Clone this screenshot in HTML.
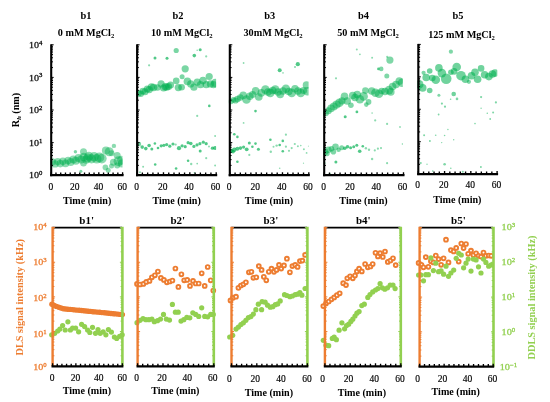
<!DOCTYPE html>
<html><head><meta charset="utf-8"><title>DLS figure</title>
<style>
html,body{margin:0;padding:0;background:#fff;}
body{width:550px;height:402px;overflow:hidden;}
svg{display:block;}
text{font-family:"Liberation Serif",serif;}
.t{font-weight:bold;font-size:10.4px;text-anchor:middle;fill:#000;}
.s{font-weight:bold;font-size:10.2px;text-anchor:middle;fill:#000;}
.xl{font-weight:bold;font-size:10.1px;text-anchor:middle;fill:#000;}
.xt{font-size:9.5px;text-anchor:middle;fill:#000;stroke:#000;stroke-width:0.15;}
.pw{font-family:"Liberation Sans",sans-serif;font-size:8.5px;stroke-width:0.2;}
.pws{font-family:"Liberation Serif",serif;font-size:8.9px;stroke-width:0.28;}
.g circle{fill:#00b050;}
.o circle{fill:#fff;stroke:#ed7d31;stroke-width:1.9;}
.o1 circle{fill:#ed7d31;stroke:#ed7d31;stroke-width:1.2;}
.l circle{fill:#92d050;}
</style></head><body>
<svg width="550" height="402" viewBox="0 0 550 402">
<rect width="550" height="402" fill="#fff"/>
<text x="86.0" y="19.1" class="t">b1</text>
<text x="178.1" y="18.9" class="t">b2</text>
<text x="269.8" y="18.7" class="t">b3</text>
<text x="363.4" y="18.7" class="t">b4</text>
<text x="458.0" y="18.8" class="t">b5</text>
<text x="86.0" y="35.6" class="s">0 mM MgCl<tspan dy="2" font-size="6.6">2</tspan></text>
<text x="181.8" y="35.6" class="s">10 mM MgCl<tspan dy="2" font-size="6.6">2</tspan></text>
<text x="273.0" y="35.6" class="s">30mM MgCl<tspan dy="2" font-size="6.6">2</tspan></text>
<text x="368.0" y="35.6" class="s">50 mM MgCl<tspan dy="2" font-size="6.6">2</tspan></text>
<text x="461.5" y="37.6" class="s">125 mM MgCl<tspan dy="2" font-size="6.6">2</tspan></text>
<text transform="translate(42.40,178.30) scale(1.13,1)" class="pws" fill="#111" stroke="#111" text-anchor="end">10<tspan dy="-3.1" font-size="6">0</tspan></text>
<text transform="translate(42.40,145.70) scale(1.13,1)" class="pws" fill="#111" stroke="#111" text-anchor="end">10<tspan dy="-3.1" font-size="6">1</tspan></text>
<text transform="translate(42.40,113.10) scale(1.13,1)" class="pws" fill="#111" stroke="#111" text-anchor="end">10<tspan dy="-3.1" font-size="6">2</tspan></text>
<text transform="translate(42.40,80.50) scale(1.13,1)" class="pws" fill="#111" stroke="#111" text-anchor="end">10<tspan dy="-3.1" font-size="6">3</tspan></text>
<text transform="translate(42.40,47.90) scale(1.13,1)" class="pws" fill="#111" stroke="#111" text-anchor="end">10<tspan dy="-3.1" font-size="6">4</tspan></text>
<text transform="translate(18.7,110) rotate(-90)" class="xl">R<tspan dy="2" font-size="6.6" font-style="italic">h</tspan><tspan dy="-2"> (nm)</tspan></text>
<clipPath id="c0"><rect x="50.10" y="41.80" width="72.40" height="133.90"/></clipPath>
<g class="g" clip-path="url(#c0)">
<circle cx="52.5" cy="161.8" r="3.6" fill-opacity="0.45"/>
<circle cx="55.1" cy="163.9" r="3.7" fill-opacity="0.45"/>
<circle cx="57.7" cy="161.6" r="3.7" fill-opacity="0.45"/>
<circle cx="60.3" cy="163.6" r="3.8" fill-opacity="0.45"/>
<circle cx="62.9" cy="161.2" r="3.8" fill-opacity="0.45"/>
<circle cx="65.5" cy="163.4" r="3.8" fill-opacity="0.45"/>
<circle cx="68.1" cy="160.6" r="3.8" fill-opacity="0.45"/>
<circle cx="70.7" cy="162.0" r="3.9" fill-opacity="0.45"/>
<circle cx="73.3" cy="159.4" r="3.9" fill-opacity="0.45"/>
<circle cx="75.9" cy="160.8" r="4.0" fill-opacity="0.45"/>
<circle cx="78.5" cy="158.0" r="4.0" fill-opacity="0.45"/>
<circle cx="81.1" cy="159.4" r="4.0" fill-opacity="0.45"/>
<circle cx="83.7" cy="157.0" r="4.2" fill-opacity="0.45"/>
<circle cx="86.3" cy="159.5" r="4.3" fill-opacity="0.45"/>
<circle cx="88.9" cy="156.2" r="4.5" fill-opacity="0.45"/>
<circle cx="91.5" cy="158.8" r="4.6" fill-opacity="0.45"/>
<circle cx="94.1" cy="156.8" r="4.8" fill-opacity="0.45"/>
<circle cx="96.7" cy="158.8" r="4.8" fill-opacity="0.45"/>
<circle cx="99.3" cy="157.4" r="5.0" fill-opacity="0.45"/>
<circle cx="101.9" cy="158.6" r="4.8" fill-opacity="0.45"/>
<circle cx="75.4" cy="151.8" r="1.7" fill-opacity="0.5"/>
<circle cx="83.5" cy="151.8" r="3.5" fill-opacity="0.45"/>
<circle cx="83.5" cy="163.2" r="3.3" fill-opacity="0.45"/>
<circle cx="80.9" cy="171.2" r="1.5" fill-opacity="0.5"/>
<circle cx="87.7" cy="158.0" r="4.5" fill-opacity="0.45"/>
<circle cx="113.9" cy="145.9" r="2.2" fill-opacity="0.45"/>
<circle cx="105.9" cy="150.4" r="4.0" fill-opacity="0.45"/>
<circle cx="109.2" cy="151.8" r="4.5" fill-opacity="0.45"/>
<circle cx="111.5" cy="153.2" r="3.0" fill-opacity="0.45"/>
<circle cx="117.2" cy="155.6" r="3.5" fill-opacity="0.45"/>
<circle cx="118.6" cy="161.3" r="5.0" fill-opacity="0.45"/>
<circle cx="121.5" cy="160.3" r="4.5" fill-opacity="0.45"/>
<circle cx="113.4" cy="162.2" r="3.5" fill-opacity="0.45"/>
<circle cx="111.5" cy="166.0" r="2.5" fill-opacity="0.45"/>
<circle cx="105.4" cy="167.4" r="2.8" fill-opacity="0.45"/>
<circle cx="108.2" cy="170.3" r="2.5" fill-opacity="0.45"/>
<circle cx="117.2" cy="165.5" r="3.0" fill-opacity="0.45"/>
<circle cx="121.8" cy="163.5" r="4.0" fill-opacity="0.45"/>
</g>
<line x1="51.20" y1="44.30" x2="51.20" y2="176.20" stroke="#000" stroke-width="2.1"/>
<path d="M51.20 175.20h2.50M51.20 165.39h1.80M51.20 159.65h1.80M51.20 155.57h1.80M51.20 152.41h1.80M51.20 149.83h1.80M51.20 147.65h1.80M51.20 145.76h1.80M51.20 144.09h1.80M51.20 142.60h2.50M51.20 132.79h1.80M51.20 127.05h1.80M51.20 122.97h1.80M51.20 119.81h1.80M51.20 117.23h1.80M51.20 115.05h1.80M51.20 113.16h1.80M51.20 111.49h1.80M51.20 110.00h2.50M51.20 100.19h1.80M51.20 94.45h1.80M51.20 90.37h1.80M51.20 87.21h1.80M51.20 84.63h1.80M51.20 82.45h1.80M51.20 80.56h1.80M51.20 78.89h1.80M51.20 77.40h2.50M51.20 67.59h1.80M51.20 61.85h1.80M51.20 57.77h1.80M51.20 54.61h1.80M51.20 52.03h1.80M51.20 49.85h1.80M51.20 47.96h1.80M51.20 46.29h1.80M51.20 44.80h2.50" stroke="#000" stroke-width="1.0" fill="none"/>
<line x1="50.10" y1="175.20" x2="123.60" y2="175.20" stroke="#000" stroke-width="2.2"/>
<path d="M51.20 175.20v-3.00M55.96 175.20v-2.60M60.72 175.20v-2.60M65.48 175.20v-2.60M70.24 175.20v-2.60M75.00 175.20v-3.00M79.76 175.20v-2.60M84.52 175.20v-2.60M89.28 175.20v-2.60M94.04 175.20v-2.60M98.80 175.20v-3.00M103.56 175.20v-2.60M108.32 175.20v-2.60M113.08 175.20v-2.60M117.84 175.20v-2.60M122.60 175.20v-3.00" stroke="#000" stroke-width="1.35" fill="none"/>
<text x="50.90" y="189.50" class="xt">0</text>
<text x="74.67" y="189.50" class="xt">20</text>
<text x="98.43" y="189.50" class="xt">40</text>
<text x="122.20" y="189.50" class="xt">60</text>
<text x="87.1" y="203.8" class="xl">Time (min)</text>
<clipPath id="c1"><rect x="136.00" y="41.80" width="80.10" height="133.90"/></clipPath>
<g class="g" clip-path="url(#c1)">
<circle cx="176.2" cy="50.5" r="2.6" fill-opacity="0.52"/>
<circle cx="155.0" cy="58.1" r="1.5" fill-opacity="0.68"/>
<circle cx="167.0" cy="58.3" r="1.5" fill-opacity="0.68"/>
<circle cx="149.1" cy="65.3" r="1.1" fill-opacity="0.45"/>
<circle cx="194.3" cy="55.6" r="1.8" fill-opacity="0.68"/>
<circle cx="200.2" cy="49.7" r="1.5" fill-opacity="0.68"/>
<circle cx="197.2" cy="50.2" r="0.8" fill-opacity="0.45"/>
<circle cx="206.2" cy="56.4" r="1.1" fill-opacity="0.45"/>
<circle cx="185.2" cy="68.8" r="3.6" fill-opacity="0.52"/>
<circle cx="182.1" cy="76.8" r="2.5" fill-opacity="0.52"/>
<circle cx="176.2" cy="80.9" r="3.3" fill-opacity="0.52"/>
<circle cx="209.2" cy="76.5" r="3.6" fill-opacity="0.52"/>
<circle cx="138.6" cy="93.2" r="3.2" fill-opacity="0.52"/>
<circle cx="140.7" cy="93.8" r="3.3" fill-opacity="0.52"/>
<circle cx="142.9" cy="91.1" r="3.4" fill-opacity="0.52"/>
<circle cx="145.0" cy="91.7" r="3.5" fill-opacity="0.52"/>
<circle cx="147.2" cy="89.0" r="3.5" fill-opacity="0.52"/>
<circle cx="149.3" cy="89.6" r="3.6" fill-opacity="0.52"/>
<circle cx="151.5" cy="86.9" r="3.7" fill-opacity="0.52"/>
<circle cx="153.6" cy="87.5" r="3.8" fill-opacity="0.52"/>
<circle cx="165.2" cy="86.8" r="3.7" fill-opacity="0.52"/>
<circle cx="168.6" cy="86.6" r="3.5" fill-opacity="0.52"/>
<circle cx="161.1" cy="83.9" r="3.6" fill-opacity="0.52"/>
<circle cx="163.6" cy="88.0" r="3.6" fill-opacity="0.52"/>
<circle cx="166.8" cy="87.2" r="3.6" fill-opacity="0.52"/>
<circle cx="170.5" cy="85.0" r="3.6" fill-opacity="0.52"/>
<circle cx="178.3" cy="87.6" r="3.6" fill-opacity="0.52"/>
<circle cx="181.6" cy="87.2" r="3.3" fill-opacity="0.52"/>
<circle cx="187.4" cy="81.4" r="3.8" fill-opacity="0.52"/>
<circle cx="190.7" cy="83.9" r="3.6" fill-opacity="0.52"/>
<circle cx="193.9" cy="87.2" r="3.6" fill-opacity="0.52"/>
<circle cx="197.2" cy="82.2" r="3.6" fill-opacity="0.52"/>
<circle cx="200.5" cy="84.7" r="3.6" fill-opacity="0.52"/>
<circle cx="203.0" cy="80.6" r="3.8" fill-opacity="0.52"/>
<circle cx="206.2" cy="84.7" r="3.6" fill-opacity="0.52"/>
<circle cx="210.4" cy="83.9" r="3.6" fill-opacity="0.52"/>
<circle cx="213.6" cy="84.7" r="3.6" fill-opacity="0.52"/>
<circle cx="215.3" cy="83.0" r="4.3" fill-opacity="0.52"/>
<circle cx="157.5" cy="87.5" r="3.3" fill-opacity="0.52"/>
<circle cx="138.9" cy="144.0" r="2.3" fill-opacity="0.52"/>
<circle cx="142.2" cy="147.1" r="1.8" fill-opacity="0.68"/>
<circle cx="145.8" cy="148.6" r="1.8" fill-opacity="0.68"/>
<circle cx="149.1" cy="145.5" r="1.8" fill-opacity="0.68"/>
<circle cx="151.8" cy="148.9" r="1.5" fill-opacity="0.68"/>
<circle cx="154.9" cy="143.5" r="1.3" fill-opacity="0.68"/>
<circle cx="158.0" cy="148.0" r="1.3" fill-opacity="0.68"/>
<circle cx="161.2" cy="145.8" r="1.6" fill-opacity="0.68"/>
<circle cx="163.9" cy="145.3" r="1.6" fill-opacity="0.68"/>
<circle cx="166.7" cy="144.6" r="1.6" fill-opacity="0.68"/>
<circle cx="169.8" cy="146.2" r="1.6" fill-opacity="0.68"/>
<circle cx="173.0" cy="144.0" r="1.6" fill-opacity="0.68"/>
<circle cx="175.7" cy="144.6" r="1.1" fill-opacity="0.45"/>
<circle cx="179.0" cy="148.2" r="2.1" fill-opacity="0.68"/>
<circle cx="182.1" cy="145.8" r="1.6" fill-opacity="0.68"/>
<circle cx="185.2" cy="146.7" r="1.6" fill-opacity="0.68"/>
<circle cx="188.1" cy="142.7" r="1.6" fill-opacity="0.68"/>
<circle cx="190.8" cy="143.5" r="1.8" fill-opacity="0.68"/>
<circle cx="193.9" cy="146.4" r="1.6" fill-opacity="0.68"/>
<circle cx="197.0" cy="144.9" r="1.6" fill-opacity="0.68"/>
<circle cx="199.9" cy="143.7" r="1.6" fill-opacity="0.68"/>
<circle cx="200.2" cy="150.9" r="1.5" fill-opacity="0.68"/>
<circle cx="203.3" cy="142.2" r="1.6" fill-opacity="0.68"/>
<circle cx="206.2" cy="143.7" r="1.6" fill-opacity="0.68"/>
<circle cx="209.0" cy="146.4" r="1.0" fill-opacity="0.45"/>
<circle cx="212.4" cy="148.2" r="1.6" fill-opacity="0.68"/>
<circle cx="215.1" cy="148.0" r="2.1" fill-opacity="0.68"/>
<circle cx="209.3" cy="105.9" r="1.3" fill-opacity="0.68"/>
<circle cx="197.2" cy="115.9" r="1.1" fill-opacity="0.45"/>
<circle cx="215.1" cy="135.9" r="1.0" fill-opacity="0.45"/>
<circle cx="188.1" cy="160.7" r="1.3" fill-opacity="0.68"/>
<circle cx="191.2" cy="164.0" r="1.2" fill-opacity="0.45"/>
<circle cx="197.2" cy="163.6" r="0.9" fill-opacity="0.45"/>
<circle cx="206.2" cy="158.2" r="1.1" fill-opacity="0.45"/>
<circle cx="215.1" cy="165.4" r="1.0" fill-opacity="0.45"/>
<circle cx="155.2" cy="164.5" r="1.3" fill-opacity="0.68"/>
<circle cx="143.1" cy="166.7" r="1.0" fill-opacity="0.45"/>
<circle cx="176.1" cy="168.5" r="1.3" fill-opacity="0.68"/>
<circle cx="140.0" cy="172.2" r="1.0" fill-opacity="0.45"/>
<circle cx="194.4" cy="172.7" r="0.8" fill-opacity="0.45"/>
</g>
<line x1="137.10" y1="44.30" x2="137.10" y2="176.20" stroke="#000" stroke-width="2.1"/>
<path d="M137.10 175.20h2.50M137.10 165.39h1.80M137.10 159.65h1.80M137.10 155.57h1.80M137.10 152.41h1.80M137.10 149.83h1.80M137.10 147.65h1.80M137.10 145.76h1.80M137.10 144.09h1.80M137.10 142.60h2.50M137.10 132.79h1.80M137.10 127.05h1.80M137.10 122.97h1.80M137.10 119.81h1.80M137.10 117.23h1.80M137.10 115.05h1.80M137.10 113.16h1.80M137.10 111.49h1.80M137.10 110.00h2.50M137.10 100.19h1.80M137.10 94.45h1.80M137.10 90.37h1.80M137.10 87.21h1.80M137.10 84.63h1.80M137.10 82.45h1.80M137.10 80.56h1.80M137.10 78.89h1.80M137.10 77.40h2.50M137.10 67.59h1.80M137.10 61.85h1.80M137.10 57.77h1.80M137.10 54.61h1.80M137.10 52.03h1.80M137.10 49.85h1.80M137.10 47.96h1.80M137.10 46.29h1.80M137.10 44.80h2.50" stroke="#000" stroke-width="1.0" fill="none"/>
<line x1="136.00" y1="175.20" x2="217.20" y2="175.20" stroke="#000" stroke-width="2.2"/>
<path d="M137.10 175.20v-3.00M142.37 175.20v-2.60M147.65 175.20v-2.60M152.92 175.20v-2.60M158.19 175.20v-2.60M163.47 175.20v-3.00M168.74 175.20v-2.60M174.01 175.20v-2.60M179.29 175.20v-2.60M184.56 175.20v-2.60M189.83 175.20v-3.00M195.11 175.20v-2.60M200.38 175.20v-2.60M205.65 175.20v-2.60M210.93 175.20v-2.60M216.20 175.20v-3.00" stroke="#000" stroke-width="1.35" fill="none"/>
<text x="136.50" y="189.50" class="xt">0</text>
<text x="162.80" y="189.50" class="xt">20</text>
<text x="189.10" y="189.50" class="xt">40</text>
<text x="215.40" y="189.50" class="xt">60</text>
<text x="176.6" y="204.1" class="xl">Time (min)</text>
<clipPath id="c2"><rect x="228.70" y="41.80" width="79.90" height="133.90"/></clipPath>
<g class="g" clip-path="url(#c2)">
<circle cx="243.6" cy="63.0" r="0.9" fill-opacity="0.45"/>
<circle cx="279.7" cy="70.2" r="2.0" fill-opacity="0.68"/>
<circle cx="283.0" cy="72.9" r="0.8" fill-opacity="0.45"/>
<circle cx="295.0" cy="67.0" r="1.1" fill-opacity="0.45"/>
<circle cx="297.8" cy="64.2" r="2.1" fill-opacity="0.68"/>
<circle cx="231.0" cy="101.5" r="2.8" fill-opacity="0.5"/>
<circle cx="233.4" cy="99.8" r="2.8" fill-opacity="0.5"/>
<circle cx="235.5" cy="100.5" r="3.1" fill-opacity="0.5"/>
<circle cx="237.5" cy="99.1" r="3.3" fill-opacity="0.5"/>
<circle cx="240.3" cy="97.5" r="3.3" fill-opacity="0.5"/>
<circle cx="243.2" cy="95.4" r="3.8" fill-opacity="0.5"/>
<circle cx="246.5" cy="99.5" r="4.3" fill-opacity="0.5"/>
<circle cx="249.8" cy="96.2" r="3.8" fill-opacity="0.5"/>
<circle cx="252.6" cy="94.5" r="3.6" fill-opacity="0.5"/>
<circle cx="255.6" cy="90.9" r="3.8" fill-opacity="0.5"/>
<circle cx="258.8" cy="97.0" r="3.8" fill-opacity="0.5"/>
<circle cx="261.3" cy="92.9" r="3.8" fill-opacity="0.5"/>
<circle cx="265.4" cy="89.6" r="4.3" fill-opacity="0.5"/>
<circle cx="267.8" cy="92.0" r="3.8" fill-opacity="0.5"/>
<circle cx="270.3" cy="92.9" r="4.3" fill-opacity="0.5"/>
<circle cx="272.8" cy="90.5" r="3.8" fill-opacity="0.5"/>
<circle cx="275.3" cy="89.6" r="4.3" fill-opacity="0.5"/>
<circle cx="278.0" cy="92.0" r="3.8" fill-opacity="0.5"/>
<circle cx="280.2" cy="94.5" r="3.8" fill-opacity="0.5"/>
<circle cx="283.0" cy="91.0" r="3.8" fill-opacity="0.5"/>
<circle cx="285.9" cy="88.8" r="4.3" fill-opacity="0.5"/>
<circle cx="288.8" cy="91.5" r="3.8" fill-opacity="0.5"/>
<circle cx="291.7" cy="92.9" r="4.3" fill-opacity="0.5"/>
<circle cx="295.0" cy="88.8" r="3.8" fill-opacity="0.5"/>
<circle cx="298.0" cy="91.0" r="3.8" fill-opacity="0.5"/>
<circle cx="300.7" cy="92.9" r="4.3" fill-opacity="0.5"/>
<circle cx="303.5" cy="90.5" r="3.6" fill-opacity="0.5"/>
<circle cx="306.5" cy="85.0" r="3.8" fill-opacity="0.5"/>
<circle cx="307.3" cy="91.3" r="4.3" fill-opacity="0.5"/>
<circle cx="255.5" cy="111.1" r="1.3" fill-opacity="0.68"/>
<circle cx="243.6" cy="122.9" r="0.9" fill-opacity="0.45"/>
<circle cx="234.3" cy="134.3" r="1.3" fill-opacity="0.68"/>
<circle cx="237.4" cy="136.9" r="1.3" fill-opacity="0.68"/>
<circle cx="231.2" cy="150.8" r="2.1" fill-opacity="0.68"/>
<circle cx="233.0" cy="151.6" r="1.9" fill-opacity="0.68"/>
<circle cx="234.3" cy="149.8" r="2.2" fill-opacity="0.68"/>
<circle cx="237.4" cy="148.7" r="2.0" fill-opacity="0.68"/>
<circle cx="240.5" cy="148.1" r="1.8" fill-opacity="0.68"/>
<circle cx="243.6" cy="147.1" r="1.6" fill-opacity="0.68"/>
<circle cx="246.7" cy="149.3" r="1.9" fill-opacity="0.68"/>
<circle cx="249.3" cy="142.9" r="1.5" fill-opacity="0.68"/>
<circle cx="252.4" cy="146.7" r="1.3" fill-opacity="0.68"/>
<circle cx="255.5" cy="143.6" r="1.3" fill-opacity="0.68"/>
<circle cx="258.4" cy="149.3" r="1.5" fill-opacity="0.68"/>
<circle cx="249.3" cy="154.9" r="1.1" fill-opacity="0.45"/>
<circle cx="237.4" cy="161.7" r="1.3" fill-opacity="0.68"/>
<circle cx="270.4" cy="139.8" r="1.3" fill-opacity="0.68"/>
<circle cx="270.8" cy="151.8" r="1.2" fill-opacity="0.45"/>
<circle cx="273.5" cy="146.7" r="1.0" fill-opacity="0.45"/>
<circle cx="276.6" cy="145.6" r="1.2" fill-opacity="0.45"/>
<circle cx="279.7" cy="145.0" r="1.3" fill-opacity="0.68"/>
<circle cx="282.8" cy="140.9" r="1.3" fill-opacity="0.68"/>
<circle cx="282.8" cy="151.2" r="1.3" fill-opacity="0.68"/>
<circle cx="285.9" cy="134.7" r="1.1" fill-opacity="0.45"/>
<circle cx="285.9" cy="146.7" r="1.1" fill-opacity="0.45"/>
<circle cx="289.0" cy="150.8" r="1.1" fill-opacity="0.45"/>
<circle cx="291.7" cy="148.1" r="1.1" fill-opacity="0.45"/>
<circle cx="294.8" cy="144.0" r="1.1" fill-opacity="0.45"/>
<circle cx="297.9" cy="146.2" r="1.0" fill-opacity="0.45"/>
<circle cx="300.8" cy="145.6" r="0.8" fill-opacity="0.45"/>
<circle cx="303.9" cy="149.3" r="1.0" fill-opacity="0.45"/>
<circle cx="306.6" cy="152.9" r="0.9" fill-opacity="0.45"/>
<circle cx="308.6" cy="146.2" r="0.7" fill-opacity="0.45"/>
<circle cx="279.7" cy="168.3" r="0.8" fill-opacity="0.45"/>
<circle cx="303.5" cy="163.2" r="0.6" fill-opacity="0.45"/>
</g>
<line x1="229.80" y1="44.30" x2="229.80" y2="176.20" stroke="#000" stroke-width="2.1"/>
<path d="M229.80 175.20h2.50M229.80 165.39h1.80M229.80 159.65h1.80M229.80 155.57h1.80M229.80 152.41h1.80M229.80 149.83h1.80M229.80 147.65h1.80M229.80 145.76h1.80M229.80 144.09h1.80M229.80 142.60h2.50M229.80 132.79h1.80M229.80 127.05h1.80M229.80 122.97h1.80M229.80 119.81h1.80M229.80 117.23h1.80M229.80 115.05h1.80M229.80 113.16h1.80M229.80 111.49h1.80M229.80 110.00h2.50M229.80 100.19h1.80M229.80 94.45h1.80M229.80 90.37h1.80M229.80 87.21h1.80M229.80 84.63h1.80M229.80 82.45h1.80M229.80 80.56h1.80M229.80 78.89h1.80M229.80 77.40h2.50M229.80 67.59h1.80M229.80 61.85h1.80M229.80 57.77h1.80M229.80 54.61h1.80M229.80 52.03h1.80M229.80 49.85h1.80M229.80 47.96h1.80M229.80 46.29h1.80M229.80 44.80h2.50" stroke="#000" stroke-width="1.0" fill="none"/>
<line x1="228.70" y1="175.20" x2="309.80" y2="175.20" stroke="#000" stroke-width="2.2"/>
<path d="M229.80 175.20v-3.00M235.07 175.20v-2.60M240.33 175.20v-2.60M245.60 175.20v-2.60M250.87 175.20v-2.60M256.13 175.20v-3.00M261.40 175.20v-2.60M266.67 175.20v-2.60M271.93 175.20v-2.60M277.20 175.20v-2.60M282.47 175.20v-3.00M287.73 175.20v-2.60M293.00 175.20v-2.60M298.27 175.20v-2.60M303.53 175.20v-2.60M308.80 175.20v-3.00" stroke="#000" stroke-width="1.35" fill="none"/>
<text x="229.10" y="189.50" class="xt">0</text>
<text x="255.37" y="189.50" class="xt">20</text>
<text x="281.63" y="189.50" class="xt">40</text>
<text x="307.90" y="189.50" class="xt">60</text>
<text x="269.0" y="204.0" class="xl">Time (min)</text>
<clipPath id="c3"><rect x="323.10" y="41.80" width="79.70" height="133.90"/></clipPath>
<g class="g" clip-path="url(#c3)">
<circle cx="356.8" cy="49.6" r="1.0" fill-opacity="0.45"/>
<circle cx="359.9" cy="54.3" r="0.9" fill-opacity="0.45"/>
<circle cx="372.1" cy="57.8" r="1.0" fill-opacity="0.45"/>
<circle cx="336.0" cy="78.3" r="1.1" fill-opacity="0.45"/>
<circle cx="389.9" cy="60.1" r="3.6" fill-opacity="0.5"/>
<circle cx="387.2" cy="56.9" r="1.1" fill-opacity="0.45"/>
<circle cx="381.2" cy="68.9" r="2.3" fill-opacity="0.5"/>
<circle cx="378.4" cy="68.9" r="1.3" fill-opacity="0.68"/>
<circle cx="386.8" cy="76.1" r="2.5" fill-opacity="0.5"/>
<circle cx="399.3" cy="81.0" r="3.8" fill-opacity="0.5"/>
<circle cx="402.0" cy="82.8" r="4.3" fill-opacity="0.5"/>
<circle cx="325.6" cy="113.0" r="3.3" fill-opacity="0.5"/>
<circle cx="328.3" cy="110.8" r="3.5" fill-opacity="0.5"/>
<circle cx="331.0" cy="108.4" r="3.8" fill-opacity="0.5"/>
<circle cx="333.8" cy="106.4" r="3.9" fill-opacity="0.5"/>
<circle cx="336.6" cy="104.6" r="4.1" fill-opacity="0.5"/>
<circle cx="339.4" cy="102.8" r="4.3" fill-opacity="0.5"/>
<circle cx="342.0" cy="100.8" r="3.6" fill-opacity="0.5"/>
<circle cx="344.5" cy="96.4" r="3.8" fill-opacity="0.5"/>
<circle cx="347.2" cy="101.0" r="3.8" fill-opacity="0.5"/>
<circle cx="350.9" cy="105.2" r="2.8" fill-opacity="0.5"/>
<circle cx="352.7" cy="95.5" r="3.8" fill-opacity="0.5"/>
<circle cx="355.0" cy="97.5" r="3.8" fill-opacity="0.5"/>
<circle cx="357.2" cy="94.6" r="3.8" fill-opacity="0.5"/>
<circle cx="359.9" cy="99.2" r="4.3" fill-opacity="0.5"/>
<circle cx="363.6" cy="96.4" r="4.3" fill-opacity="0.5"/>
<circle cx="365.4" cy="90.6" r="3.3" fill-opacity="0.5"/>
<circle cx="368.6" cy="101.9" r="2.8" fill-opacity="0.5"/>
<circle cx="366.3" cy="104.6" r="2.3" fill-opacity="0.5"/>
<circle cx="371.7" cy="91.0" r="3.8" fill-opacity="0.5"/>
<circle cx="375.4" cy="92.8" r="4.3" fill-opacity="0.5"/>
<circle cx="379.0" cy="93.7" r="4.3" fill-opacity="0.5"/>
<circle cx="381.7" cy="91.0" r="3.3" fill-opacity="0.5"/>
<circle cx="385.0" cy="91.5" r="3.8" fill-opacity="0.5"/>
<circle cx="389.0" cy="90.1" r="4.3" fill-opacity="0.5"/>
<circle cx="390.8" cy="91.9" r="3.8" fill-opacity="0.5"/>
<circle cx="392.6" cy="86.5" r="3.8" fill-opacity="0.5"/>
<circle cx="396.0" cy="84.5" r="3.8" fill-opacity="0.5"/>
<circle cx="356.9" cy="111.9" r="1.4" fill-opacity="0.68"/>
<circle cx="372.1" cy="113.1" r="0.8" fill-opacity="0.45"/>
<circle cx="345.2" cy="116.7" r="1.5" fill-opacity="0.68"/>
<circle cx="375.2" cy="120.4" r="1.1" fill-opacity="0.45"/>
<circle cx="387.1" cy="123.9" r="1.1" fill-opacity="0.45"/>
<circle cx="400.0" cy="127.0" r="0.9" fill-opacity="0.45"/>
<circle cx="402.6" cy="144.0" r="0.9" fill-opacity="0.45"/>
<circle cx="325.2" cy="151.8" r="3.3" fill-opacity="0.5"/>
<circle cx="327.0" cy="153.6" r="2.7" fill-opacity="0.5"/>
<circle cx="328.3" cy="149.8" r="3.3" fill-opacity="0.5"/>
<circle cx="331.4" cy="148.7" r="2.8" fill-opacity="0.5"/>
<circle cx="335.5" cy="146.7" r="3.3" fill-opacity="0.5"/>
<circle cx="333.4" cy="151.8" r="2.8" fill-opacity="0.5"/>
<circle cx="338.6" cy="149.8" r="2.3" fill-opacity="0.5"/>
<circle cx="341.7" cy="147.7" r="2.5" fill-opacity="0.5"/>
<circle cx="344.8" cy="148.3" r="1.8" fill-opacity="0.68"/>
<circle cx="347.5" cy="146.7" r="1.8" fill-opacity="0.68"/>
<circle cx="350.6" cy="147.7" r="1.5" fill-opacity="0.68"/>
<circle cx="353.7" cy="146.7" r="1.5" fill-opacity="0.68"/>
<circle cx="356.8" cy="145.2" r="1.5" fill-opacity="0.68"/>
<circle cx="359.7" cy="151.2" r="1.8" fill-opacity="0.68"/>
<circle cx="362.8" cy="146.2" r="1.3" fill-opacity="0.68"/>
<circle cx="365.9" cy="148.3" r="1.2" fill-opacity="0.45"/>
<circle cx="369.0" cy="149.8" r="1.2" fill-opacity="0.45"/>
<circle cx="374.8" cy="150.4" r="1.1" fill-opacity="0.45"/>
<circle cx="377.9" cy="148.7" r="1.1" fill-opacity="0.45"/>
<circle cx="381.0" cy="148.1" r="1.1" fill-opacity="0.45"/>
<circle cx="335.9" cy="162.1" r="1.5" fill-opacity="0.68"/>
<circle cx="372.1" cy="159.0" r="1.2" fill-opacity="0.45"/>
<circle cx="387.1" cy="163.2" r="1.1" fill-opacity="0.45"/>
<circle cx="329.7" cy="173.9" r="1.1" fill-opacity="0.45"/>
<circle cx="324.6" cy="163.2" r="1.1" fill-opacity="0.45"/>
</g>
<line x1="324.20" y1="44.30" x2="324.20" y2="176.20" stroke="#000" stroke-width="2.1"/>
<path d="M324.20 175.20h2.50M324.20 165.39h1.80M324.20 159.65h1.80M324.20 155.57h1.80M324.20 152.41h1.80M324.20 149.83h1.80M324.20 147.65h1.80M324.20 145.76h1.80M324.20 144.09h1.80M324.20 142.60h2.50M324.20 132.79h1.80M324.20 127.05h1.80M324.20 122.97h1.80M324.20 119.81h1.80M324.20 117.23h1.80M324.20 115.05h1.80M324.20 113.16h1.80M324.20 111.49h1.80M324.20 110.00h2.50M324.20 100.19h1.80M324.20 94.45h1.80M324.20 90.37h1.80M324.20 87.21h1.80M324.20 84.63h1.80M324.20 82.45h1.80M324.20 80.56h1.80M324.20 78.89h1.80M324.20 77.40h2.50M324.20 67.59h1.80M324.20 61.85h1.80M324.20 57.77h1.80M324.20 54.61h1.80M324.20 52.03h1.80M324.20 49.85h1.80M324.20 47.96h1.80M324.20 46.29h1.80M324.20 44.80h2.50" stroke="#000" stroke-width="1.0" fill="none"/>
<line x1="323.10" y1="175.20" x2="404.50" y2="175.20" stroke="#000" stroke-width="2.2"/>
<path d="M324.20 175.20v-3.00M329.49 175.20v-2.60M334.77 175.20v-2.60M340.06 175.20v-2.60M345.35 175.20v-2.60M350.63 175.20v-3.00M355.92 175.20v-2.60M361.21 175.20v-2.60M366.49 175.20v-2.60M371.78 175.20v-2.60M377.07 175.20v-3.00M382.35 175.20v-2.60M387.64 175.20v-2.60M392.93 175.20v-2.60M398.21 175.20v-2.60M403.50 175.20v-3.00" stroke="#000" stroke-width="1.35" fill="none"/>
<text x="323.60" y="189.50" class="xt">0</text>
<text x="349.93" y="189.50" class="xt">20</text>
<text x="376.27" y="189.50" class="xt">40</text>
<text x="402.60" y="189.50" class="xt">60</text>
<text x="363.5" y="204.0" class="xl">Time (min)</text>
<clipPath id="c4"><rect x="417.20" y="41.40" width="80.10" height="133.20"/></clipPath>
<g class="g" clip-path="url(#c4)">
<circle cx="450.9" cy="51.7" r="2.1" fill-opacity="0.5"/>
<circle cx="438.9" cy="67.9" r="3.8" fill-opacity="0.56"/>
<circle cx="429.7" cy="71.0" r="2.8" fill-opacity="0.56"/>
<circle cx="423.6" cy="72.8" r="2.1" fill-opacity="0.5"/>
<circle cx="426.2" cy="77.5" r="3.8" fill-opacity="0.56"/>
<circle cx="432.3" cy="78.0" r="3.3" fill-opacity="0.56"/>
<circle cx="435.8" cy="79.7" r="4.3" fill-opacity="0.56"/>
<circle cx="441.9" cy="73.1" r="4.3" fill-opacity="0.56"/>
<circle cx="446.2" cy="78.7" r="5.3" fill-opacity="0.56"/>
<circle cx="450.9" cy="72.2" r="2.8" fill-opacity="0.56"/>
<circle cx="456.7" cy="67.0" r="4.3" fill-opacity="0.56"/>
<circle cx="454.1" cy="71.4" r="3.3" fill-opacity="0.56"/>
<circle cx="461.0" cy="75.7" r="4.8" fill-opacity="0.56"/>
<circle cx="465.4" cy="79.2" r="3.8" fill-opacity="0.56"/>
<circle cx="468.9" cy="81.8" r="2.1" fill-opacity="0.5"/>
<circle cx="471.5" cy="75.7" r="3.8" fill-opacity="0.56"/>
<circle cx="475.0" cy="72.2" r="3.8" fill-opacity="0.56"/>
<circle cx="477.6" cy="79.2" r="3.8" fill-opacity="0.56"/>
<circle cx="481.1" cy="68.4" r="3.3" fill-opacity="0.56"/>
<circle cx="484.6" cy="74.8" r="3.8" fill-opacity="0.56"/>
<circle cx="488.9" cy="76.6" r="3.8" fill-opacity="0.56"/>
<circle cx="492.4" cy="74.0" r="3.8" fill-opacity="0.56"/>
<circle cx="495.0" cy="73.1" r="3.8" fill-opacity="0.56"/>
<circle cx="419.2" cy="84.4" r="4.3" fill-opacity="0.56"/>
<circle cx="422.7" cy="87.9" r="3.8" fill-opacity="0.56"/>
<circle cx="429.7" cy="90.5" r="2.8" fill-opacity="0.56"/>
<circle cx="438.9" cy="95.2" r="1.5" fill-opacity="0.5"/>
<circle cx="453.7" cy="94.0" r="2.3" fill-opacity="0.56"/>
<circle cx="457.0" cy="98.9" r="1.3" fill-opacity="0.5"/>
<circle cx="450.6" cy="99.2" r="0.8" fill-opacity="0.5"/>
<circle cx="441.9" cy="103.6" r="1.1" fill-opacity="0.5"/>
<circle cx="445.0" cy="106.7" r="1.1" fill-opacity="0.5"/>
<circle cx="481.1" cy="97.1" r="1.1" fill-opacity="0.5"/>
<circle cx="495.9" cy="102.4" r="1.1" fill-opacity="0.5"/>
<circle cx="481.1" cy="108.3" r="0.7" fill-opacity="0.5"/>
<circle cx="438.6" cy="114.5" r="0.9" fill-opacity="0.5"/>
<circle cx="487.3" cy="113.2" r="0.8" fill-opacity="0.5"/>
<circle cx="493.1" cy="112.6" r="1.0" fill-opacity="0.5"/>
<circle cx="490.2" cy="119.0" r="0.9" fill-opacity="0.5"/>
<circle cx="475.0" cy="123.6" r="0.8" fill-opacity="0.5"/>
<circle cx="447.9" cy="129.5" r="0.7" fill-opacity="0.5"/>
<circle cx="424.1" cy="135.3" r="1.0" fill-opacity="0.5"/>
<circle cx="435.7" cy="135.3" r="0.8" fill-opacity="0.5"/>
<circle cx="444.6" cy="135.5" r="0.8" fill-opacity="0.5"/>
<circle cx="429.9" cy="141.1" r="1.0" fill-opacity="0.5"/>
<circle cx="441.7" cy="142.6" r="0.7" fill-opacity="0.5"/>
<circle cx="453.7" cy="139.7" r="0.7" fill-opacity="0.5"/>
<circle cx="420.8" cy="163.0" r="1.0" fill-opacity="0.5"/>
<circle cx="427.0" cy="164.3" r="0.7" fill-opacity="0.5"/>
<circle cx="444.6" cy="164.3" r="1.3" fill-opacity="0.5"/>
<circle cx="450.8" cy="168.2" r="0.8" fill-opacity="0.5"/>
<circle cx="480.9" cy="166.9" r="1.0" fill-opacity="0.5"/>
<circle cx="432.8" cy="171.1" r="0.8" fill-opacity="0.5"/>
<circle cx="462.8" cy="171.7" r="1.0" fill-opacity="0.5"/>
</g>
<line x1="418.30" y1="43.90" x2="418.30" y2="175.10" stroke="#000" stroke-width="2.1"/>
<path d="M418.30 174.10h2.50M418.30 164.34h1.80M418.30 158.63h1.80M418.30 154.58h1.80M418.30 151.44h1.80M418.30 148.87h1.80M418.30 146.70h1.80M418.30 144.82h1.80M418.30 143.16h1.80M418.30 141.68h2.50M418.30 131.91h1.80M418.30 126.20h1.80M418.30 122.15h1.80M418.30 119.01h1.80M418.30 116.44h1.80M418.30 114.27h1.80M418.30 112.39h1.80M418.30 110.73h1.80M418.30 109.25h2.50M418.30 99.49h1.80M418.30 93.78h1.80M418.30 89.73h1.80M418.30 86.59h1.80M418.30 84.02h1.80M418.30 81.85h1.80M418.30 79.97h1.80M418.30 78.31h1.80M418.30 76.83h2.50M418.30 67.06h1.80M418.30 61.35h1.80M418.30 57.30h1.80M418.30 54.16h1.80M418.30 51.59h1.80M418.30 49.42h1.80M418.30 47.54h1.80M418.30 45.88h1.80M418.30 44.40h2.50" stroke="#000" stroke-width="1.0" fill="none"/>
<line x1="417.20" y1="174.10" x2="498.10" y2="174.10" stroke="#000" stroke-width="2.2"/>
<path d="M418.30 174.10v-3.00M423.55 174.10v-2.60M428.81 174.10v-2.60M434.06 174.10v-2.60M439.31 174.10v-2.60M444.57 174.10v-3.00M449.82 174.10v-2.60M455.07 174.10v-2.60M460.33 174.10v-2.60M465.58 174.10v-2.60M470.83 174.10v-3.00M476.09 174.10v-2.60M481.34 174.10v-2.60M486.59 174.10v-2.60M491.85 174.10v-2.60M497.10 174.10v-3.00" stroke="#000" stroke-width="1.35" fill="none"/>
<text x="417.50" y="187.70" class="xt">0</text>
<text x="443.83" y="187.70" class="xt">20</text>
<text x="470.17" y="187.70" class="xt">40</text>
<text x="496.50" y="187.70" class="xt">60</text>
<text x="457.3" y="203.3" class="xl">Time (min)</text>
<text x="86.7" y="223.6" class="t" style="font-size:11px">b1'</text>
<text x="177.8" y="223.6" class="t" style="font-size:11px">b2'</text>
<text x="270.9" y="223.6" class="t" style="font-size:11px">b3'</text>
<text x="363.3" y="223.6" class="t" style="font-size:11px">b4'</text>
<text x="458.4" y="223.6" class="t" style="font-size:11px">b5'</text>
<g class="o1">
<circle cx="51.9" cy="304.2" r="2.1"/>
<circle cx="54.2" cy="305.5" r="2.1"/>
<circle cx="56.4" cy="306.4" r="2.1"/>
<circle cx="58.7" cy="307.2" r="2.1"/>
<circle cx="61.0" cy="308.0" r="2.1"/>
<circle cx="63.3" cy="308.7" r="2.1"/>
<circle cx="65.5" cy="309.0" r="2.1"/>
<circle cx="67.8" cy="309.2" r="2.1"/>
<circle cx="70.1" cy="309.4" r="2.1"/>
<circle cx="72.4" cy="309.6" r="2.1"/>
<circle cx="74.6" cy="309.9" r="2.1"/>
<circle cx="76.9" cy="310.1" r="2.1"/>
<circle cx="79.2" cy="310.3" r="2.1"/>
<circle cx="81.5" cy="310.5" r="2.1"/>
<circle cx="83.7" cy="310.8" r="2.1"/>
<circle cx="86.0" cy="311.0" r="2.1"/>
<circle cx="88.3" cy="311.2" r="2.1"/>
<circle cx="90.6" cy="311.4" r="2.1"/>
<circle cx="92.8" cy="311.7" r="2.1"/>
<circle cx="95.1" cy="311.9" r="2.1"/>
<circle cx="97.4" cy="312.1" r="2.1"/>
<circle cx="99.7" cy="312.3" r="2.1"/>
<circle cx="101.9" cy="312.6" r="2.1"/>
<circle cx="104.2" cy="312.8" r="2.1"/>
<circle cx="106.5" cy="313.0" r="2.1"/>
<circle cx="108.8" cy="313.2" r="2.1"/>
<circle cx="111.0" cy="313.5" r="2.1"/>
<circle cx="113.3" cy="313.7" r="2.1"/>
<circle cx="115.6" cy="313.9" r="2.1"/>
<circle cx="117.9" cy="314.1" r="2.1"/>
<circle cx="120.1" cy="314.4" r="2.1"/>
<circle cx="122.4" cy="314.6" r="2.1"/>
</g>
<g class="l">
<circle cx="51.7" cy="334.8" r="2.6"/>
<circle cx="54.7" cy="333.3" r="2.6"/>
<circle cx="57.7" cy="331.0" r="2.6"/>
<circle cx="59.9" cy="329.1" r="2.6"/>
<circle cx="62.6" cy="325.5" r="2.6"/>
<circle cx="67.9" cy="321.8" r="2.6"/>
<circle cx="65.2" cy="330.0" r="2.6"/>
<circle cx="70.4" cy="330.0" r="2.6"/>
<circle cx="72.6" cy="328.1" r="2.6"/>
<circle cx="75.6" cy="328.1" r="2.6"/>
<circle cx="78.6" cy="331.8" r="2.6"/>
<circle cx="81.6" cy="324.3" r="2.6"/>
<circle cx="84.6" cy="326.6" r="2.6"/>
<circle cx="87.6" cy="330.0" r="2.6"/>
<circle cx="89.8" cy="332.5" r="2.6"/>
<circle cx="92.5" cy="327.3" r="2.6"/>
<circle cx="95.5" cy="333.3" r="2.6"/>
<circle cx="98.0" cy="329.6" r="2.6"/>
<circle cx="100.2" cy="333.3" r="2.6"/>
<circle cx="103.2" cy="331.8" r="2.6"/>
<circle cx="105.9" cy="334.8" r="2.6"/>
<circle cx="108.4" cy="329.6" r="2.6"/>
<circle cx="111.4" cy="332.1" r="2.6"/>
<circle cx="114.4" cy="337.0" r="2.6"/>
<circle cx="116.7" cy="338.5" r="2.6"/>
<circle cx="119.6" cy="336.3" r="2.6"/>
<circle cx="122.2" cy="334.8" r="2.6"/>
</g>
<line x1="52.40" y1="227.60" x2="122.00" y2="227.60" stroke="#000" stroke-width="1.6"/>
<line x1="52.60" y1="226.75" x2="52.60" y2="366.20" stroke="#ed7d31" stroke-width="2.4"/>
<path d="M52.60 366.20h2.50M52.60 355.77h1.80M52.60 349.67h1.80M52.60 345.34h1.80M52.60 341.98h1.80M52.60 339.24h1.80M52.60 336.92h1.80M52.60 334.91h1.80M52.60 333.14h1.80M52.60 331.55h2.50M52.60 321.12h1.80M52.60 315.02h1.80M52.60 310.69h1.80M52.60 307.33h1.80M52.60 304.59h1.80M52.60 302.27h1.80M52.60 300.26h1.80M52.60 298.49h1.80M52.60 296.90h2.50M52.60 286.47h1.80M52.60 280.37h1.80M52.60 276.04h1.80M52.60 272.68h1.80M52.60 269.94h1.80M52.60 267.62h1.80M52.60 265.61h1.80M52.60 263.84h1.80M52.60 262.25h2.50M52.60 251.82h1.80M52.60 245.72h1.80M52.60 241.39h1.80M52.60 238.03h1.80M52.60 235.29h1.80M52.60 232.97h1.80M52.60 230.96h1.80M52.60 229.19h1.80M52.60 227.60h2.50" stroke="#ed7d31" stroke-width="1.0" fill="none"/>
<line x1="122.40" y1="226.75" x2="122.40" y2="366.20" stroke="#92d050" stroke-width="2.6"/>
<path d="M122.40 366.20h-2.50M122.40 355.77h-1.80M122.40 349.67h-1.80M122.40 345.34h-1.80M122.40 341.98h-1.80M122.40 339.24h-1.80M122.40 336.92h-1.80M122.40 334.91h-1.80M122.40 333.14h-1.80M122.40 331.55h-2.50M122.40 321.12h-1.80M122.40 315.02h-1.80M122.40 310.69h-1.80M122.40 307.33h-1.80M122.40 304.59h-1.80M122.40 302.27h-1.80M122.40 300.26h-1.80M122.40 298.49h-1.80M122.40 296.90h-2.50M122.40 286.47h-1.80M122.40 280.37h-1.80M122.40 276.04h-1.80M122.40 272.68h-1.80M122.40 269.94h-1.80M122.40 267.62h-1.80M122.40 265.61h-1.80M122.40 263.84h-1.80M122.40 262.25h-2.50M122.40 251.82h-1.80M122.40 245.72h-1.80M122.40 241.39h-1.80M122.40 238.03h-1.80M122.40 235.29h-1.80M122.40 232.97h-1.80M122.40 230.96h-1.80M122.40 229.19h-1.80M122.40 227.60h-2.50" stroke="#92d050" stroke-width="1.0" fill="none"/>
<line x1="51.50" y1="366.30" x2="123.40" y2="366.30" stroke="#000" stroke-width="2.2"/>
<path d="M52.60 366.30v-3.00M57.25 366.30v-2.60M61.91 366.30v-2.60M66.56 366.30v-2.60M71.21 366.30v-2.60M75.87 366.30v-3.00M80.52 366.30v-2.60M85.17 366.30v-2.60M89.83 366.30v-2.60M94.48 366.30v-2.60M99.13 366.30v-3.00M103.79 366.30v-2.60M108.44 366.30v-2.60M113.09 366.30v-2.60M117.75 366.30v-2.60M122.40 366.30v-3.00" stroke="#000" stroke-width="1.35" fill="none"/>
<text x="52.10" y="380.90" class="xt">0</text>
<text x="75.47" y="380.90" class="xt">20</text>
<text x="98.83" y="380.90" class="xt">40</text>
<text x="122.20" y="380.90" class="xt">60</text>
<text x="86.9" y="394.3" class="xl">Time (min)</text>
<g class="o">
<circle cx="137.0" cy="283.9" r="1.9"/>
<circle cx="140.0" cy="284.5" r="1.9"/>
<circle cx="143.4" cy="283.9" r="1.9"/>
<circle cx="146.3" cy="281.9" r="1.9"/>
<circle cx="149.5" cy="280.9" r="1.9"/>
<circle cx="151.9" cy="277.3" r="1.9"/>
<circle cx="154.9" cy="275.3" r="1.9"/>
<circle cx="157.9" cy="271.5" r="1.9"/>
<circle cx="160.9" cy="277.9" r="1.9"/>
<circle cx="163.9" cy="279.9" r="1.9"/>
<circle cx="166.9" cy="282.3" r="1.9"/>
<circle cx="169.8" cy="281.5" r="1.9"/>
<circle cx="172.4" cy="280.5" r="1.9"/>
<circle cx="175.4" cy="268.5" r="1.9"/>
<circle cx="178.4" cy="286.9" r="1.9"/>
<circle cx="181.4" cy="274.3" r="1.9"/>
<circle cx="184.2" cy="280.3" r="1.9"/>
<circle cx="187.2" cy="279.9" r="1.9"/>
<circle cx="190.0" cy="285.9" r="1.9"/>
<circle cx="193.0" cy="280.9" r="1.9"/>
<circle cx="195.7" cy="283.5" r="1.9"/>
<circle cx="198.7" cy="283.5" r="1.9"/>
<circle cx="201.7" cy="273.3" r="1.9"/>
<circle cx="204.7" cy="285.9" r="1.9"/>
<circle cx="207.7" cy="267.0" r="1.9"/>
<circle cx="210.7" cy="280.3" r="1.9"/>
<circle cx="213.3" cy="290.5" r="1.9"/>
</g>
<g class="l">
<circle cx="137.0" cy="322.7" r="2.6"/>
<circle cx="140.0" cy="320.3" r="2.6"/>
<circle cx="143.0" cy="318.7" r="2.6"/>
<circle cx="145.9" cy="319.7" r="2.6"/>
<circle cx="148.9" cy="319.7" r="2.6"/>
<circle cx="151.9" cy="319.1" r="2.6"/>
<circle cx="154.3" cy="321.7" r="2.6"/>
<circle cx="157.5" cy="320.7" r="2.6"/>
<circle cx="160.5" cy="319.1" r="2.6"/>
<circle cx="163.5" cy="314.4" r="2.6"/>
<circle cx="166.3" cy="319.1" r="2.6"/>
<circle cx="169.5" cy="320.1" r="2.6"/>
<circle cx="172.4" cy="304.4" r="2.6"/>
<circle cx="175.4" cy="312.2" r="2.6"/>
<circle cx="178.2" cy="312.2" r="2.6"/>
<circle cx="181.0" cy="321.1" r="2.6"/>
<circle cx="183.8" cy="319.7" r="2.6"/>
<circle cx="186.8" cy="317.4" r="2.6"/>
<circle cx="189.8" cy="317.8" r="2.6"/>
<circle cx="192.8" cy="312.8" r="2.6"/>
<circle cx="195.7" cy="314.4" r="2.6"/>
<circle cx="198.7" cy="316.4" r="2.6"/>
<circle cx="201.7" cy="307.8" r="2.6"/>
<circle cx="204.7" cy="316.4" r="2.6"/>
<circle cx="207.7" cy="316.8" r="2.6"/>
<circle cx="210.7" cy="314.4" r="2.6"/>
<circle cx="213.3" cy="314.4" r="2.6"/>
</g>
<line x1="137.40" y1="227.60" x2="213.40" y2="227.60" stroke="#000" stroke-width="1.6"/>
<line x1="137.60" y1="226.75" x2="137.60" y2="366.20" stroke="#ed7d31" stroke-width="2.4"/>
<path d="M137.60 366.20h2.50M137.60 355.77h1.80M137.60 349.67h1.80M137.60 345.34h1.80M137.60 341.98h1.80M137.60 339.24h1.80M137.60 336.92h1.80M137.60 334.91h1.80M137.60 333.14h1.80M137.60 331.55h2.50M137.60 321.12h1.80M137.60 315.02h1.80M137.60 310.69h1.80M137.60 307.33h1.80M137.60 304.59h1.80M137.60 302.27h1.80M137.60 300.26h1.80M137.60 298.49h1.80M137.60 296.90h2.50M137.60 286.47h1.80M137.60 280.37h1.80M137.60 276.04h1.80M137.60 272.68h1.80M137.60 269.94h1.80M137.60 267.62h1.80M137.60 265.61h1.80M137.60 263.84h1.80M137.60 262.25h2.50M137.60 251.82h1.80M137.60 245.72h1.80M137.60 241.39h1.80M137.60 238.03h1.80M137.60 235.29h1.80M137.60 232.97h1.80M137.60 230.96h1.80M137.60 229.19h1.80M137.60 227.60h2.50" stroke="#ed7d31" stroke-width="1.0" fill="none"/>
<line x1="213.80" y1="226.75" x2="213.80" y2="366.20" stroke="#92d050" stroke-width="2.6"/>
<path d="M213.80 366.20h-2.50M213.80 355.77h-1.80M213.80 349.67h-1.80M213.80 345.34h-1.80M213.80 341.98h-1.80M213.80 339.24h-1.80M213.80 336.92h-1.80M213.80 334.91h-1.80M213.80 333.14h-1.80M213.80 331.55h-2.50M213.80 321.12h-1.80M213.80 315.02h-1.80M213.80 310.69h-1.80M213.80 307.33h-1.80M213.80 304.59h-1.80M213.80 302.27h-1.80M213.80 300.26h-1.80M213.80 298.49h-1.80M213.80 296.90h-2.50M213.80 286.47h-1.80M213.80 280.37h-1.80M213.80 276.04h-1.80M213.80 272.68h-1.80M213.80 269.94h-1.80M213.80 267.62h-1.80M213.80 265.61h-1.80M213.80 263.84h-1.80M213.80 262.25h-2.50M213.80 251.82h-1.80M213.80 245.72h-1.80M213.80 241.39h-1.80M213.80 238.03h-1.80M213.80 235.29h-1.80M213.80 232.97h-1.80M213.80 230.96h-1.80M213.80 229.19h-1.80M213.80 227.60h-2.50" stroke="#92d050" stroke-width="1.0" fill="none"/>
<line x1="136.50" y1="366.30" x2="214.80" y2="366.30" stroke="#000" stroke-width="2.2"/>
<path d="M137.60 366.30v-3.00M142.68 366.30v-2.60M147.76 366.30v-2.60M152.84 366.30v-2.60M157.92 366.30v-2.60M163.00 366.30v-3.00M168.08 366.30v-2.60M173.16 366.30v-2.60M178.24 366.30v-2.60M183.32 366.30v-2.60M188.40 366.30v-3.00M193.48 366.30v-2.60M198.56 366.30v-2.60M203.64 366.30v-2.60M208.72 366.30v-2.60M213.80 366.30v-3.00" stroke="#000" stroke-width="1.35" fill="none"/>
<text x="136.70" y="380.90" class="xt">0</text>
<text x="162.03" y="380.90" class="xt">20</text>
<text x="187.37" y="380.90" class="xt">40</text>
<text x="212.70" y="380.90" class="xt">60</text>
<text x="175.3" y="394.3" class="xl">Time (min)</text>
<g class="o">
<circle cx="230.5" cy="300.4" r="1.9"/>
<circle cx="233.0" cy="297.7" r="1.9"/>
<circle cx="236.0" cy="296.7" r="1.9"/>
<circle cx="238.4" cy="287.8" r="1.9"/>
<circle cx="240.9" cy="285.5" r="1.9"/>
<circle cx="243.4" cy="284.3" r="1.9"/>
<circle cx="245.9" cy="282.3" r="1.9"/>
<circle cx="248.9" cy="272.3" r="1.9"/>
<circle cx="251.4" cy="271.8" r="1.9"/>
<circle cx="253.4" cy="277.8" r="1.9"/>
<circle cx="256.3" cy="277.3" r="1.9"/>
<circle cx="258.8" cy="266.1" r="1.9"/>
<circle cx="261.6" cy="269.9" r="1.9"/>
<circle cx="263.8" cy="276.8" r="1.9"/>
<circle cx="266.3" cy="280.3" r="1.9"/>
<circle cx="268.8" cy="271.8" r="1.9"/>
<circle cx="271.5" cy="268.6" r="1.9"/>
<circle cx="274.0" cy="271.8" r="1.9"/>
<circle cx="276.5" cy="269.9" r="1.9"/>
<circle cx="279.0" cy="264.9" r="1.9"/>
<circle cx="281.2" cy="268.6" r="1.9"/>
<circle cx="284.0" cy="265.4" r="1.9"/>
<circle cx="286.9" cy="258.7" r="1.9"/>
<circle cx="289.9" cy="272.3" r="1.9"/>
<circle cx="292.4" cy="266.1" r="1.9"/>
<circle cx="295.2" cy="264.9" r="1.9"/>
<circle cx="297.6" cy="266.9" r="1.9"/>
<circle cx="299.9" cy="261.1" r="1.9"/>
<circle cx="302.4" cy="260.6" r="1.9"/>
<circle cx="305.1" cy="254.9" r="1.9"/>
</g>
<g class="l">
<circle cx="229.7" cy="337.0" r="2.6"/>
<circle cx="232.7" cy="335.3" r="2.6"/>
<circle cx="236.0" cy="329.1" r="2.6"/>
<circle cx="238.4" cy="327.1" r="2.6"/>
<circle cx="240.9" cy="324.6" r="2.6"/>
<circle cx="243.4" cy="322.8" r="2.6"/>
<circle cx="245.9" cy="320.3" r="2.6"/>
<circle cx="248.4" cy="317.6" r="2.6"/>
<circle cx="250.9" cy="316.6" r="2.6"/>
<circle cx="253.4" cy="314.1" r="2.6"/>
<circle cx="255.9" cy="309.7" r="2.6"/>
<circle cx="258.3" cy="304.2" r="2.6"/>
<circle cx="261.6" cy="309.7" r="2.6"/>
<circle cx="262.1" cy="301.7" r="2.6"/>
<circle cx="265.1" cy="302.2" r="2.6"/>
<circle cx="267.5" cy="305.2" r="2.6"/>
<circle cx="270.3" cy="307.2" r="2.6"/>
<circle cx="272.8" cy="306.7" r="2.6"/>
<circle cx="275.3" cy="304.7" r="2.6"/>
<circle cx="277.7" cy="303.9" r="2.6"/>
<circle cx="280.2" cy="300.9" r="2.6"/>
<circle cx="284.5" cy="294.7" r="2.6"/>
<circle cx="286.9" cy="295.5" r="2.6"/>
<circle cx="289.9" cy="296.7" r="2.6"/>
<circle cx="292.4" cy="296.0" r="2.6"/>
<circle cx="295.2" cy="294.7" r="2.6"/>
<circle cx="297.6" cy="294.2" r="2.6"/>
<circle cx="299.9" cy="292.7" r="2.6"/>
<circle cx="301.9" cy="295.2" r="2.6"/>
<circle cx="305.1" cy="288.5" r="2.6"/>
</g>
<line x1="231.30" y1="227.60" x2="307.00" y2="227.60" stroke="#000" stroke-width="1.6"/>
<line x1="231.50" y1="226.75" x2="231.50" y2="366.20" stroke="#ed7d31" stroke-width="2.4"/>
<path d="M231.50 366.20h2.50M231.50 355.77h1.80M231.50 349.67h1.80M231.50 345.34h1.80M231.50 341.98h1.80M231.50 339.24h1.80M231.50 336.92h1.80M231.50 334.91h1.80M231.50 333.14h1.80M231.50 331.55h2.50M231.50 321.12h1.80M231.50 315.02h1.80M231.50 310.69h1.80M231.50 307.33h1.80M231.50 304.59h1.80M231.50 302.27h1.80M231.50 300.26h1.80M231.50 298.49h1.80M231.50 296.90h2.50M231.50 286.47h1.80M231.50 280.37h1.80M231.50 276.04h1.80M231.50 272.68h1.80M231.50 269.94h1.80M231.50 267.62h1.80M231.50 265.61h1.80M231.50 263.84h1.80M231.50 262.25h2.50M231.50 251.82h1.80M231.50 245.72h1.80M231.50 241.39h1.80M231.50 238.03h1.80M231.50 235.29h1.80M231.50 232.97h1.80M231.50 230.96h1.80M231.50 229.19h1.80M231.50 227.60h2.50" stroke="#ed7d31" stroke-width="1.0" fill="none"/>
<line x1="307.40" y1="226.75" x2="307.40" y2="366.20" stroke="#92d050" stroke-width="2.6"/>
<path d="M307.40 366.20h-2.50M307.40 355.77h-1.80M307.40 349.67h-1.80M307.40 345.34h-1.80M307.40 341.98h-1.80M307.40 339.24h-1.80M307.40 336.92h-1.80M307.40 334.91h-1.80M307.40 333.14h-1.80M307.40 331.55h-2.50M307.40 321.12h-1.80M307.40 315.02h-1.80M307.40 310.69h-1.80M307.40 307.33h-1.80M307.40 304.59h-1.80M307.40 302.27h-1.80M307.40 300.26h-1.80M307.40 298.49h-1.80M307.40 296.90h-2.50M307.40 286.47h-1.80M307.40 280.37h-1.80M307.40 276.04h-1.80M307.40 272.68h-1.80M307.40 269.94h-1.80M307.40 267.62h-1.80M307.40 265.61h-1.80M307.40 263.84h-1.80M307.40 262.25h-2.50M307.40 251.82h-1.80M307.40 245.72h-1.80M307.40 241.39h-1.80M307.40 238.03h-1.80M307.40 235.29h-1.80M307.40 232.97h-1.80M307.40 230.96h-1.80M307.40 229.19h-1.80M307.40 227.60h-2.50" stroke="#92d050" stroke-width="1.0" fill="none"/>
<line x1="230.40" y1="366.30" x2="308.40" y2="366.30" stroke="#000" stroke-width="2.2"/>
<path d="M231.50 366.30v-3.00M236.56 366.30v-2.60M241.62 366.30v-2.60M246.68 366.30v-2.60M251.74 366.30v-2.60M256.80 366.30v-3.00M261.86 366.30v-2.60M266.92 366.30v-2.60M271.98 366.30v-2.60M277.04 366.30v-2.60M282.10 366.30v-3.00M287.16 366.30v-2.60M292.22 366.30v-2.60M297.28 366.30v-2.60M302.34 366.30v-2.60M307.40 366.30v-3.00" stroke="#000" stroke-width="1.35" fill="none"/>
<text x="229.30" y="381.80" class="xt">0</text>
<text x="255.17" y="381.80" class="xt">20</text>
<text x="281.03" y="381.80" class="xt">40</text>
<text x="306.90" y="381.80" class="xt">60</text>
<text x="268.9" y="395.7" class="xl">Time (min)</text>
<g class="o">
<circle cx="323.3" cy="306.1" r="1.9"/>
<circle cx="326.0" cy="303.4" r="1.9"/>
<circle cx="328.7" cy="301.5" r="1.9"/>
<circle cx="331.5" cy="299.3" r="1.9"/>
<circle cx="334.2" cy="297.4" r="1.9"/>
<circle cx="336.9" cy="295.2" r="1.9"/>
<circle cx="339.7" cy="293.3" r="1.9"/>
<circle cx="343.2" cy="283.2" r="1.9"/>
<circle cx="346.0" cy="285.1" r="1.9"/>
<circle cx="347.3" cy="278.3" r="1.9"/>
<circle cx="350.1" cy="276.3" r="1.9"/>
<circle cx="352.8" cy="278.3" r="1.9"/>
<circle cx="355.0" cy="275.5" r="1.9"/>
<circle cx="356.9" cy="271.4" r="1.9"/>
<circle cx="359.1" cy="268.7" r="1.9"/>
<circle cx="361.8" cy="271.4" r="1.9"/>
<circle cx="365.1" cy="264.0" r="1.9"/>
<circle cx="367.8" cy="267.3" r="1.9"/>
<circle cx="370.5" cy="266.5" r="1.9"/>
<circle cx="372.7" cy="264.0" r="1.9"/>
<circle cx="375.5" cy="252.8" r="1.9"/>
<circle cx="377.9" cy="256.4" r="1.9"/>
<circle cx="380.1" cy="253.1" r="1.9"/>
<circle cx="382.8" cy="256.9" r="1.9"/>
<circle cx="385.0" cy="251.5" r="1.9"/>
<circle cx="387.8" cy="261.9" r="1.9"/>
<circle cx="390.5" cy="260.5" r="1.9"/>
<circle cx="393.0" cy="258.3" r="1.9"/>
<circle cx="395.7" cy="265.1" r="1.9"/>
</g>
<g class="l">
<circle cx="323.3" cy="340.3" r="2.6"/>
<circle cx="326.0" cy="345.2" r="2.6"/>
<circle cx="328.7" cy="345.7" r="2.6"/>
<circle cx="332.3" cy="338.4" r="2.6"/>
<circle cx="334.2" cy="337.0" r="2.6"/>
<circle cx="336.4" cy="339.7" r="2.6"/>
<circle cx="339.1" cy="330.2" r="2.6"/>
<circle cx="341.9" cy="322.8" r="2.6"/>
<circle cx="344.6" cy="328.8" r="2.6"/>
<circle cx="346.5" cy="325.5" r="2.6"/>
<circle cx="348.7" cy="324.2" r="2.6"/>
<circle cx="350.9" cy="321.4" r="2.6"/>
<circle cx="352.8" cy="319.2" r="2.6"/>
<circle cx="355.0" cy="316.0" r="2.6"/>
<circle cx="356.9" cy="313.2" r="2.6"/>
<circle cx="359.1" cy="311.6" r="2.6"/>
<circle cx="361.8" cy="305.6" r="2.6"/>
<circle cx="364.3" cy="304.2" r="2.6"/>
<circle cx="367.8" cy="297.4" r="2.6"/>
<circle cx="370.0" cy="294.6" r="2.6"/>
<circle cx="372.7" cy="291.9" r="2.6"/>
<circle cx="375.5" cy="290.0" r="2.6"/>
<circle cx="377.9" cy="288.6" r="2.6"/>
<circle cx="380.1" cy="283.7" r="2.6"/>
<circle cx="382.3" cy="287.8" r="2.6"/>
<circle cx="384.8" cy="289.2" r="2.6"/>
<circle cx="387.5" cy="287.8" r="2.6"/>
<circle cx="390.2" cy="285.1" r="2.6"/>
<circle cx="393.0" cy="285.1" r="2.6"/>
<circle cx="395.1" cy="288.6" r="2.6"/>
</g>
<line x1="324.70" y1="227.60" x2="400.40" y2="227.60" stroke="#000" stroke-width="1.6"/>
<line x1="324.90" y1="226.75" x2="324.90" y2="366.20" stroke="#ed7d31" stroke-width="2.4"/>
<path d="M324.90 366.20h2.50M324.90 355.77h1.80M324.90 349.67h1.80M324.90 345.34h1.80M324.90 341.98h1.80M324.90 339.24h1.80M324.90 336.92h1.80M324.90 334.91h1.80M324.90 333.14h1.80M324.90 331.55h2.50M324.90 321.12h1.80M324.90 315.02h1.80M324.90 310.69h1.80M324.90 307.33h1.80M324.90 304.59h1.80M324.90 302.27h1.80M324.90 300.26h1.80M324.90 298.49h1.80M324.90 296.90h2.50M324.90 286.47h1.80M324.90 280.37h1.80M324.90 276.04h1.80M324.90 272.68h1.80M324.90 269.94h1.80M324.90 267.62h1.80M324.90 265.61h1.80M324.90 263.84h1.80M324.90 262.25h2.50M324.90 251.82h1.80M324.90 245.72h1.80M324.90 241.39h1.80M324.90 238.03h1.80M324.90 235.29h1.80M324.90 232.97h1.80M324.90 230.96h1.80M324.90 229.19h1.80M324.90 227.60h2.50" stroke="#ed7d31" stroke-width="1.0" fill="none"/>
<line x1="400.80" y1="226.75" x2="400.80" y2="366.20" stroke="#92d050" stroke-width="2.6"/>
<path d="M400.80 366.20h-2.50M400.80 355.77h-1.80M400.80 349.67h-1.80M400.80 345.34h-1.80M400.80 341.98h-1.80M400.80 339.24h-1.80M400.80 336.92h-1.80M400.80 334.91h-1.80M400.80 333.14h-1.80M400.80 331.55h-2.50M400.80 321.12h-1.80M400.80 315.02h-1.80M400.80 310.69h-1.80M400.80 307.33h-1.80M400.80 304.59h-1.80M400.80 302.27h-1.80M400.80 300.26h-1.80M400.80 298.49h-1.80M400.80 296.90h-2.50M400.80 286.47h-1.80M400.80 280.37h-1.80M400.80 276.04h-1.80M400.80 272.68h-1.80M400.80 269.94h-1.80M400.80 267.62h-1.80M400.80 265.61h-1.80M400.80 263.84h-1.80M400.80 262.25h-2.50M400.80 251.82h-1.80M400.80 245.72h-1.80M400.80 241.39h-1.80M400.80 238.03h-1.80M400.80 235.29h-1.80M400.80 232.97h-1.80M400.80 230.96h-1.80M400.80 229.19h-1.80M400.80 227.60h-2.50" stroke="#92d050" stroke-width="1.0" fill="none"/>
<line x1="323.80" y1="366.30" x2="401.80" y2="366.30" stroke="#000" stroke-width="2.2"/>
<path d="M324.90 366.30v-3.00M329.96 366.30v-2.60M335.02 366.30v-2.60M340.08 366.30v-2.60M345.14 366.30v-2.60M350.20 366.30v-3.00M355.26 366.30v-2.60M360.32 366.30v-2.60M365.38 366.30v-2.60M370.44 366.30v-2.60M375.50 366.30v-3.00M380.56 366.30v-2.60M385.62 366.30v-2.60M390.68 366.30v-2.60M395.74 366.30v-2.60M400.80 366.30v-3.00" stroke="#000" stroke-width="1.35" fill="none"/>
<text x="322.60" y="381.80" class="xt">0</text>
<text x="348.43" y="381.80" class="xt">20</text>
<text x="374.27" y="381.80" class="xt">40</text>
<text x="400.10" y="381.80" class="xt">60</text>
<text x="361.9" y="395.7" class="xl">Time (min)</text>
<g class="o">
<circle cx="418.6" cy="262.9" r="1.9"/>
<circle cx="421.4" cy="264.8" r="1.9"/>
<circle cx="423.5" cy="267.3" r="1.9"/>
<circle cx="425.8" cy="257.1" r="1.9"/>
<circle cx="428.4" cy="266.8" r="1.9"/>
<circle cx="430.9" cy="261.2" r="1.9"/>
<circle cx="433.4" cy="262.4" r="1.9"/>
<circle cx="435.8" cy="255.5" r="1.9"/>
<circle cx="438.6" cy="259.1" r="1.9"/>
<circle cx="441.1" cy="264.8" r="1.9"/>
<circle cx="443.6" cy="258.3" r="1.9"/>
<circle cx="446.0" cy="239.7" r="1.9"/>
<circle cx="448.5" cy="262.4" r="1.9"/>
<circle cx="450.9" cy="250.1" r="1.9"/>
<circle cx="453.7" cy="251.4" r="1.9"/>
<circle cx="456.2" cy="247.9" r="1.9"/>
<circle cx="458.7" cy="261.6" r="1.9"/>
<circle cx="461.3" cy="243.5" r="1.9"/>
<circle cx="463.6" cy="248.1" r="1.9"/>
<circle cx="466.0" cy="244.0" r="1.9"/>
<circle cx="468.2" cy="253.8" r="1.9"/>
<circle cx="471.0" cy="250.6" r="1.9"/>
<circle cx="473.4" cy="255.0" r="1.9"/>
<circle cx="476.1" cy="253.3" r="1.9"/>
<circle cx="478.5" cy="255.8" r="1.9"/>
<circle cx="481.0" cy="256.6" r="1.9"/>
<circle cx="483.5" cy="252.5" r="1.9"/>
<circle cx="485.9" cy="255.8" r="1.9"/>
<circle cx="488.7" cy="255.5" r="1.9"/>
<circle cx="491.2" cy="255.8" r="1.9"/>
</g>
<g class="l">
<circle cx="418.6" cy="275.0" r="2.6"/>
<circle cx="420.9" cy="275.0" r="2.6"/>
<circle cx="423.5" cy="280.8" r="2.6"/>
<circle cx="425.8" cy="274.7" r="2.6"/>
<circle cx="428.4" cy="274.7" r="2.6"/>
<circle cx="430.9" cy="257.9" r="2.6"/>
<circle cx="433.4" cy="270.6" r="2.6"/>
<circle cx="435.8" cy="263.2" r="2.6"/>
<circle cx="438.6" cy="271.7" r="2.6"/>
<circle cx="441.1" cy="270.9" r="2.6"/>
<circle cx="443.6" cy="274.2" r="2.6"/>
<circle cx="446.0" cy="266.2" r="2.6"/>
<circle cx="448.5" cy="276.3" r="2.6"/>
<circle cx="450.9" cy="273.0" r="2.6"/>
<circle cx="453.7" cy="270.1" r="2.6"/>
<circle cx="456.2" cy="258.3" r="2.6"/>
<circle cx="458.7" cy="253.3" r="2.6"/>
<circle cx="461.3" cy="255.0" r="2.6"/>
<circle cx="463.6" cy="267.8" r="2.6"/>
<circle cx="466.0" cy="263.2" r="2.6"/>
<circle cx="468.2" cy="259.1" r="2.6"/>
<circle cx="471.0" cy="271.1" r="2.6"/>
<circle cx="473.4" cy="259.1" r="2.6"/>
<circle cx="476.1" cy="259.9" r="2.6"/>
<circle cx="478.5" cy="266.8" r="2.6"/>
<circle cx="481.0" cy="273.0" r="2.6"/>
<circle cx="483.5" cy="259.1" r="2.6"/>
<circle cx="485.9" cy="262.4" r="2.6"/>
<circle cx="488.7" cy="266.2" r="2.6"/>
<circle cx="491.2" cy="264.8" r="2.6"/>
</g>
<line x1="419.40" y1="227.60" x2="492.80" y2="227.60" stroke="#000" stroke-width="1.6"/>
<line x1="419.60" y1="226.75" x2="419.60" y2="366.60" stroke="#ed7d31" stroke-width="2.4"/>
<path d="M419.60 366.60h2.50M419.60 356.14h1.80M419.60 350.02h1.80M419.60 345.68h1.80M419.60 342.31h1.80M419.60 339.56h1.80M419.60 337.23h1.80M419.60 335.22h1.80M419.60 333.44h1.80M419.60 331.85h2.50M419.60 321.39h1.80M419.60 315.27h1.80M419.60 310.93h1.80M419.60 307.56h1.80M419.60 304.81h1.80M419.60 302.48h1.80M419.60 300.47h1.80M419.60 298.69h1.80M419.60 297.10h2.50M419.60 286.64h1.80M419.60 280.52h1.80M419.60 276.18h1.80M419.60 272.81h1.80M419.60 270.06h1.80M419.60 267.73h1.80M419.60 265.72h1.80M419.60 263.94h1.80M419.60 262.35h2.50M419.60 251.89h1.80M419.60 245.77h1.80M419.60 241.43h1.80M419.60 238.06h1.80M419.60 235.31h1.80M419.60 232.98h1.80M419.60 230.97h1.80M419.60 229.19h1.80M419.60 227.60h2.50" stroke="#ed7d31" stroke-width="1.0" fill="none"/>
<line x1="493.50" y1="226.75" x2="493.50" y2="366.60" stroke="#92d050" stroke-width="2.6"/>
<path d="M493.50 366.60h-2.50M493.50 356.14h-1.80M493.50 350.02h-1.80M493.50 345.68h-1.80M493.50 342.31h-1.80M493.50 339.56h-1.80M493.50 337.23h-1.80M493.50 335.22h-1.80M493.50 333.44h-1.80M493.50 331.85h-2.50M493.50 321.39h-1.80M493.50 315.27h-1.80M493.50 310.93h-1.80M493.50 307.56h-1.80M493.50 304.81h-1.80M493.50 302.48h-1.80M493.50 300.47h-1.80M493.50 298.69h-1.80M493.50 297.10h-2.50M493.50 286.64h-1.80M493.50 280.52h-1.80M493.50 276.18h-1.80M493.50 272.81h-1.80M493.50 270.06h-1.80M493.50 267.73h-1.80M493.50 265.72h-1.80M493.50 263.94h-1.80M493.50 262.35h-2.50M493.50 251.89h-1.80M493.50 245.77h-1.80M493.50 241.43h-1.80M493.50 238.06h-1.80M493.50 235.31h-1.80M493.50 232.98h-1.80M493.50 230.97h-1.80M493.50 229.19h-1.80M493.50 227.60h-2.50" stroke="#92d050" stroke-width="1.0" fill="none"/>
<line x1="418.50" y1="366.70" x2="494.20" y2="366.70" stroke="#000" stroke-width="2.2"/>
<path d="M419.60 366.70v-3.00M424.51 366.70v-2.60M429.41 366.70v-2.60M434.32 366.70v-2.60M439.23 366.70v-2.60M444.13 366.70v-3.00M449.04 366.70v-2.60M453.95 366.70v-2.60M458.85 366.70v-2.60M463.76 366.70v-2.60M468.67 366.70v-3.00M473.57 366.70v-2.60M478.48 366.70v-2.60M483.39 366.70v-2.60M488.29 366.70v-2.60M493.20 366.70v-3.00" stroke="#000" stroke-width="1.35" fill="none"/>
<text x="417.50" y="381.60" class="xt">0</text>
<text x="442.50" y="381.60" class="xt">20</text>
<text x="467.50" y="381.60" class="xt">40</text>
<text x="492.50" y="381.60" class="xt">60</text>
<text x="455.7" y="394.5" class="xl">Time (min)</text>
<text transform="translate(46.70,370.30) scale(1.13,1)" class="pws" fill="#ed7d31" stroke="#ed7d31" text-anchor="end">10<tspan dy="-3.1" font-size="6">0</tspan></text>
<text transform="translate(46.70,336.60) scale(1.13,1)" class="pws" fill="#ed7d31" stroke="#ed7d31" text-anchor="end">10<tspan dy="-3.1" font-size="6">1</tspan></text>
<text transform="translate(46.70,300.60) scale(1.13,1)" class="pws" fill="#ed7d31" stroke="#ed7d31" text-anchor="end">10<tspan dy="-3.1" font-size="6">2</tspan></text>
<text transform="translate(46.70,264.60) scale(1.13,1)" class="pws" fill="#ed7d31" stroke="#ed7d31" text-anchor="end">10<tspan dy="-3.1" font-size="6">3</tspan></text>
<text transform="translate(46.70,229.60) scale(1.13,1)" class="pws" fill="#ed7d31" stroke="#ed7d31" text-anchor="end">10<tspan dy="-3.1" font-size="6">4</tspan></text>
<text transform="translate(508.40,370.20) scale(1.15,1)" class="pws" fill="#92d050" stroke="#92d050" text-anchor="middle">10<tspan dy="-3.1" font-size="6">−1</tspan></text>
<text transform="translate(508.40,335.05) scale(1.15,1)" class="pws" fill="#92d050" stroke="#92d050" text-anchor="middle">10<tspan dy="-3.1" font-size="6">0</tspan></text>
<text transform="translate(508.40,299.90) scale(1.15,1)" class="pws" fill="#92d050" stroke="#92d050" text-anchor="middle">10<tspan dy="-3.1" font-size="6">1</tspan></text>
<text transform="translate(508.40,264.75) scale(1.15,1)" class="pws" fill="#92d050" stroke="#92d050" text-anchor="middle">10<tspan dy="-3.1" font-size="6">2</tspan></text>
<text transform="translate(508.40,229.60) scale(1.15,1)" class="pws" fill="#92d050" stroke="#92d050" text-anchor="middle">10<tspan dy="-3.1" font-size="6">3</tspan></text>
<text transform="translate(22.7,297.3) rotate(-90)" class="xl" style="fill:#ed7d31;font-size:10.3px">DLS signal intensity (kHz)</text>
<text transform="translate(534.8,297.5) rotate(-90)" class="xl" style="fill:#92d050;font-size:10.3px">DDLS signal intensity (kHz)</text>
</svg></body></html>
